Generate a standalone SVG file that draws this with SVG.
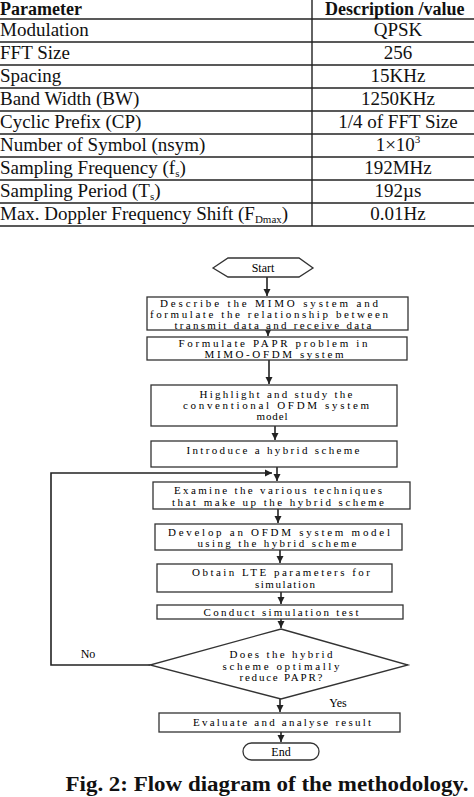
<svg xmlns="http://www.w3.org/2000/svg" width="474" height="797" viewBox="0 0 474 797">
<style>
.tl{stroke:#222;stroke-width:1.4;fill:none}
.tt{font-family:"Liberation Serif","Times New Roman",serif;font-size:19px;fill:#111}
.th{font-family:"Liberation Serif","Times New Roman",serif;font-size:18px;font-weight:bold;fill:#111}
.tv{text-anchor:middle}
.box{fill:#fff;stroke:#333;stroke-width:1.3}
.ft{font-family:"Liberation Serif","Times New Roman",serif;font-size:11px;fill:#000;text-anchor:middle}
.fl{font-family:"Liberation Serif","Times New Roman",serif;font-size:12px;fill:#000;text-anchor:middle}
.con{stroke:#222;stroke-width:1.6;fill:none}
.cap{font-family:"Liberation Serif","Times New Roman",serif;font-size:20px;font-weight:bold;fill:#111;text-anchor:middle}
</style>
<defs>
<marker id="ah" markerUnits="userSpaceOnUse" markerWidth="8" markerHeight="8" refX="7" refY="4" orient="auto">
<path d="M0,0.5 L7,4 L0,7.5 z" fill="#222"/>
</marker>
</defs>
<rect width="474" height="797" fill="#fff"/>

<g id="table">
<line class="tl" x1="312" y1="0" x2="312" y2="226"/>
<line class="tl" x1="0" y1="19" x2="474" y2="19"/>
<line class="tl" x1="0" y1="42" x2="474" y2="42"/>
<line class="tl" x1="0" y1="65" x2="474" y2="65"/>
<line class="tl" x1="0" y1="88" x2="474" y2="88"/>
<line class="tl" x1="0" y1="111" x2="474" y2="111"/>
<line class="tl" x1="0" y1="134" x2="474" y2="134"/>
<line class="tl" x1="0" y1="157" x2="474" y2="157"/>
<line class="tl" x1="0" y1="180" x2="474" y2="180"/>
<line class="tl" x1="0" y1="203" x2="474" y2="203"/>
<line class="tl" x1="0" y1="226" x2="474" y2="226"/>
<text class="th" x="0" y="15">Parameter</text>
<text class="th" x="325" y="15">Description /value</text>
<text class="tt" x="0" y="36">Modulation</text>
<text class="tt tv" x="398" y="36">QPSK</text>
<text class="tt" x="0" y="59">FFT Size</text>
<text class="tt tv" x="398" y="59">256</text>
<text class="tt" x="0" y="82">Spacing</text>
<text class="tt tv" x="398" y="82">15KHz</text>
<text class="tt" x="0" y="105">Band Width (BW)</text>
<text class="tt tv" x="398" y="105">1250KHz</text>
<text class="tt" x="0" y="128">Cyclic Prefix (CP)</text>
<text class="tt tv" x="398" y="128">1/4 of FFT Size</text>
<text class="tt" x="0" y="151">Number of Symbol (nsym)</text>
<text class="tt tv" x="398" y="151">1×10<tspan font-size="11" dy="-8">3</tspan></text>
<text class="tt" x="0" y="174">Sampling Frequency (f<tspan font-size="11" dy="3">s</tspan><tspan dy="-3">)</tspan></text>
<text class="tt tv" x="398" y="174">192MHz</text>
<text class="tt" x="0" y="197">Sampling Period (T<tspan font-size="11" dy="3">s</tspan><tspan dy="-3">)</tspan></text>
<text class="tt tv" x="398" y="197">192µs</text>
<text class="tt" x="0" y="220">Max. Doppler Frequency Shift (F<tspan font-size="11" dy="3">Dmax</tspan><tspan dy="-3">)</tspan></text>
<text class="tt tv" x="398" y="220">0.01Hz</text>
</g>

<g id="connectors">
<line class="con" x1="267" y1="277" x2="267" y2="296" marker-end="url(#ah)"/>
<line class="con" x1="268" y1="330" x2="268" y2="336" marker-end="url(#ah)"/>
<line class="con" x1="269" y1="360" x2="269" y2="384" marker-end="url(#ah)"/>
<line class="con" x1="275" y1="426" x2="275" y2="440" marker-end="url(#ah)"/>
<line class="con" x1="277" y1="467" x2="277" y2="481" marker-end="url(#ah)"/>
<path class="con" d="M150,665 H51 V473 H272" marker-end="url(#ah)"/>
<line class="con" x1="278" y1="509" x2="278" y2="523" marker-end="url(#ah)"/>
<line class="con" x1="280" y1="550" x2="280" y2="563" marker-end="url(#ah)"/>
<line class="con" x1="281" y1="592" x2="281" y2="604" marker-end="url(#ah)"/>
<line class="con" x1="281" y1="619" x2="281" y2="628" marker-end="url(#ah)"/>
<line class="con" x1="280" y1="699" x2="280" y2="712" marker-end="url(#ah)"/>
<line class="con" x1="281" y1="732" x2="281" y2="742" marker-end="url(#ah)"/>
<text class="fl" x="88" y="658">No</text>
<text class="fl" x="338" y="707">Yes</text>
</g>

<g id="start">
<polygon class="box" points="213,268 228,258 299,258 313,268 299,277 228,277"/>
<text class="fl" x="263" y="271.5">Start</text>
</g>

<g id="describe">
<rect class="box" x="147" y="297" width="261" height="33"/>
<text class="ft" x="269" y="307" textLength="218" lengthAdjust="spacing">Describe the MIMO system and</text>
<text class="ft" x="269" y="318" textLength="238" lengthAdjust="spacing">formulate the relationship between</text>
<text class="ft" x="273" y="328.5" textLength="197" lengthAdjust="spacing">transmit data and receive data</text>
</g>

<g id="formulate">
<rect class="box" x="147" y="337" width="260" height="23"/>
<text class="ft" x="273" y="347" textLength="189" lengthAdjust="spacing">Formulate PAPR problem in</text>
<text class="ft" x="274" y="358" textLength="139" lengthAdjust="spacing">MIMO-OFDM system</text>
</g>

<g id="highlight">
<rect class="box" x="151" y="385" width="246" height="41"/>
<text class="ft" x="276" y="398" textLength="153" lengthAdjust="spacing">Highlight and study the</text>
<text class="ft" x="276" y="409" textLength="186" lengthAdjust="spacing">conventional OFDM system</text>
<text class="ft" x="272" y="420" textLength="31" lengthAdjust="spacing">model</text>
</g>

<g id="introduce">
<rect class="box" x="151" y="441" width="246" height="26"/>
<text class="ft" x="273" y="454" textLength="173" lengthAdjust="spacing">Introduce a hybrid scheme</text>
</g>

<g id="examine">
<rect class="box" x="153" y="482" width="257" height="27"/>
<text class="ft" x="278" y="494" textLength="208" lengthAdjust="spacing">Examine the various techniques</text>
<text class="ft" x="278" y="506" textLength="212" lengthAdjust="spacing">that make up the hybrid scheme</text>
</g>

<g id="develop">
<rect class="box" x="155" y="524" width="247" height="26"/>
<text class="ft" x="279" y="536" textLength="222" lengthAdjust="spacing">Develop an OFDM system model</text>
<text class="ft" x="277" y="547" textLength="159" lengthAdjust="spacing">using the hybrid scheme</text>
</g>

<g id="obtain">
<rect class="box" x="157" y="564" width="235" height="28"/>
<text class="ft" x="281" y="576" textLength="178" lengthAdjust="spacing">Obtain LTE parameters for</text>
<text class="ft" x="285" y="588" textLength="60" lengthAdjust="spacing">simulation</text>
</g>

<g id="conduct">
<rect class="box" x="157" y="605" width="246" height="14"/>
<text class="ft" x="281" y="615.5" textLength="155" lengthAdjust="spacing">Conduct simulation test</text>
</g>

<g id="decision">
<polygon class="box" points="281,629 408,665 281,699 150,665"/>
<text class="ft" x="281" y="658" textLength="103" lengthAdjust="spacing">Does the hybrid</text>
<text class="ft" x="281" y="670" textLength="117" lengthAdjust="spacing">scheme optimally</text>
<text class="ft" x="281" y="681" textLength="83" lengthAdjust="spacing">reduce PAPR?</text>
</g>

<g id="evaluate">
<rect class="box" x="159" y="713" width="241" height="19"/>
<text class="ft" x="282" y="726" textLength="178" lengthAdjust="spacing">Evaluate and analyse result</text>
</g>

<g id="end">
<rect class="box" x="243" y="743" width="76" height="17" rx="8.5" ry="8.5"/>
<text class="fl" x="281" y="756">End</text>
</g>

<text class="cap" x="267" y="791" textLength="403" lengthAdjust="spacingAndGlyphs">Fig. 2: Flow diagram of the methodology.</text>
</svg>
